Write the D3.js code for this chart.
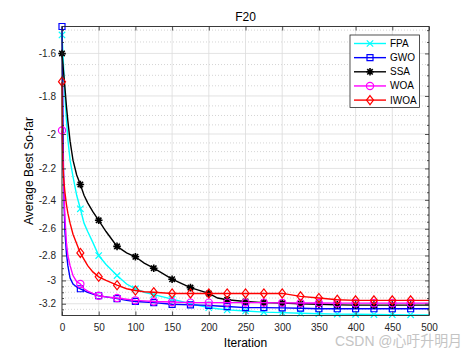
<!DOCTYPE html>
<html><head><meta charset="utf-8">
<script src="https://cdn.jsdelivr.net/npm/d3@7"></script>
<style>body{margin:0;background:#fff;} svg{display:block;font-family:"Liberation Sans",Arial,sans-serif;}</style>
</head><body><svg id="c" width="474" height="355"></svg>
<script>
const iterations = [0,1,2,3,4,6,8,11,15,20,25,30,35,42,50,60,75,88,100,112,125,150,175,200,212,225,250,275,300,325,350,375,400,425,450,475,500];
const fpa  = [-1.52,-1.58,-1.65,-1.72,-1.80,-1.92,-2.03,-2.15,-2.25,-2.37,-2.46,-2.56,-2.62,-2.70,-2.80,-2.87,-2.96,-3.03,-3.07,-3.10,-3.12,-3.16,-3.20,-3.235,-3.245,-3.255,-3.265,-3.275,-3.28,-3.285,-3.29,-3.293,-3.295,-3.297,-3.298,-3.30,-3.30];
const gwo  = [-1.485,-1.80,-2.20,-2.45,-2.62,-2.78,-2.88,-2.98,-3.03,-3.055,-3.07,-3.085,-3.10,-3.115,-3.13,-3.14,-3.155,-3.17,-3.18,-3.185,-3.19,-3.205,-3.21,-3.215,-3.22,-3.225,-3.235,-3.235,-3.237,-3.24,-3.245,-3.245,-3.245,-3.245,-3.245,-3.245,-3.245];
const ssa  = [-1.60,-1.64,-1.68,-1.72,-1.76,-1.85,-1.93,-2.04,-2.15,-2.24,-2.30,-2.37,-2.42,-2.48,-2.54,-2.62,-2.73,-2.78,-2.81,-2.86,-2.90,-2.99,-3.06,-3.11,-3.15,-3.165,-3.18,-3.19,-3.195,-3.20,-3.205,-3.21,-3.212,-3.212,-3.212,-3.212,-3.212];
const woa  = [-1.98,-2.10,-2.22,-2.40,-2.52,-2.70,-2.80,-2.88,-2.96,-3.01,-3.03,-3.07,-3.09,-3.11,-3.13,-3.14,-3.15,-3.16,-3.17,-3.175,-3.18,-3.185,-3.19,-3.19,-3.19,-3.19,-3.19,-3.19,-3.192,-3.193,-3.194,-3.195,-3.195,-3.195,-3.195,-3.195,-3.195];
const iwoa = [-1.73,-2.15,-2.25,-2.30,-2.35,-2.43,-2.49,-2.56,-2.64,-2.71,-2.78,-2.83,-2.88,-2.93,-2.97,-3.00,-3.04,-3.07,-3.085,-3.095,-3.10,-3.11,-3.11,-3.11,-3.11,-3.11,-3.11,-3.11,-3.11,-3.135,-3.15,-3.165,-3.17,-3.17,-3.17,-3.17,-3.17];
const seriesNames = ["FPA","GWO","SSA","WOA","IWOA"];
const seriesColors = ["#00ffff","#0000ff","#000000","#ff00ff","#ff0000"];
const seriesMarkers = ["x","square","star","circle","diamond"];
const seriesValues = [fpa, gwo, ssa, woa, iwoa];
const xTicks = [0,50,100,150,200,250,300,350,400,450,500];
const yTicks = [-1.6,-1.8,-2,-2.2,-2.4,-2.6,-2.8,-3,-3.2];
const yTickLabels = ["-1.6","-1.8","-2","-2.2","-2.4","-2.6","-2.8","-3","-3.2"];
const yMinor = [-1.5,-1.55,-1.65,-1.7,-1.75,-1.85,-1.9,-1.95,-2.05,-2.1,-2.15,-2.25,-2.3,-2.35,-2.45,-2.5,-2.55,-2.65,-2.7,-2.75,-2.85,-2.9,-2.95,-3.05,-3.1,-3.15,-3.25];
const markerEvery = 25;

const L=62, R=429, T=26.5, B=315.5;
const svg = d3.select("#c");
const x = d3.scaleLinear().domain([0,500]).range([L,R]);
const y = d3.scaleLog().domain([-1.485,-3.306]).range([T,B]);

// grid
const g = svg.append("g");
g.selectAll(".mg").data(yMinor).join("line")
  .attr("x1",L).attr("x2",R).attr("y1",d=>y(d)).attr("y2",d=>y(d))
  .attr("stroke","#b8b8b8").attr("stroke-width",0.6).attr("stroke-dasharray","1,2");
g.selectAll(".yg").data(yTicks).join("line")
  .attr("x1",L).attr("x2",R).attr("y1",d=>y(d)).attr("y2",d=>y(d))
  .attr("stroke","#dcdcdc").attr("stroke-width",0.8);
g.selectAll(".xg").data(xTicks).join("line")
  .attr("y1",T).attr("y2",B).attr("x1",d=>x(d)).attr("x2",d=>x(d))
  .attr("stroke","#dcdcdc").attr("stroke-width",0.8);

// series
function markerPath(type, s){
  switch(type){
    case "x": return `M${-s},${-s}L${s},${s}M${-s},${s}L${s},${-s}`;
    case "square": return `M${-s},${-s}H${s}V${s}H${-s}Z`;
    case "star": {const d=s*0.72; return `M0,${-s}V${s}M${-s},0H${s}M${-d},${-d}L${d},${d}M${-d},${d}L${d},${-d}`;}
    case "diamond": return `M0,${-s*1.3}L${s},0L0,${s*1.3}L${-s},0Z`;
  }
}
function drawMarker(sel, type, color){
  if(type==="circle"){
    sel.append("circle").attr("r",3.6).attr("fill","none").attr("stroke",color).attr("stroke-width",1.2);
  } else {
    const s = type==="square"?3:(type==="diamond"?3.5:(type==="star"?3.8:3.2));
    sel.append("path").attr("d",markerPath(type,s)).attr("fill","none").attr("stroke",color)
      .attr("stroke-width",type==="star"?1.6:1.2);
  }
}
const line = d3.line().x(d=>x(d[0])).y(d=>y(d[1]));
seriesValues.forEach((vals,i)=>{
  const pts = iterations.map((it,j)=>[it, vals[j]]);
  const sg = svg.append("g");
  sg.append("path").attr("d",line(pts)).attr("fill","none").attr("stroke",seriesColors[i]).attr("stroke-width",1.4);
  pts.filter(p=>p[0]%markerEvery===0 && p[0]<500).forEach(p=>{
    const m = sg.append("g").attr("transform",`translate(${x(p[0])},${y(p[1])})`);
    drawMarker(m, seriesMarkers[i], seriesColors[i]);
  });
});

// axes
const axCol="#262626";
const bx = svg.append("g").attr("transform",`translate(0,${B})`)
  .call(d3.axisBottom(x).tickValues(xTicks).tickSizeInner(-4).tickSizeOuter(0).tickPadding(8).tickFormat(d3.format("d")));
const lx = svg.append("g").attr("transform",`translate(${L},0)`)
  .call(d3.axisLeft(y).tickValues(yTicks).tickSizeInner(-4).tickSizeOuter(0).tickPadding(6).tickFormat((d,i)=>yTickLabels[i]));
const tx = svg.append("g").attr("transform",`translate(0,${T})`)
  .call(d3.axisTop(x).tickValues(xTicks).tickSizeInner(-4).tickSizeOuter(0).tickFormat(""));
const rx = svg.append("g").attr("transform",`translate(${R},0)`)
  .call(d3.axisRight(y).tickValues(yTicks).tickSizeInner(-4).tickSizeOuter(0).tickFormat(""));
const lm = svg.append("g").attr("transform",`translate(${L},0)`)
  .call(d3.axisLeft(y).tickValues(yMinor).tickSizeInner(-2).tickSizeOuter(0).tickFormat(""));
const rm = svg.append("g").attr("transform",`translate(${R},0)`)
  .call(d3.axisRight(y).tickValues(yMinor).tickSizeInner(-2).tickSizeOuter(0).tickFormat(""));
[bx,lx,tx,rx,lm,rm].forEach(a=>{
  a.select(".domain").remove();
  a.selectAll("line").attr("stroke",axCol).attr("stroke-width",0.8);
  a.selectAll("text").attr("fill",axCol).style("font-size","10px").style("font-family",'"Liberation Sans",Arial,sans-serif');
});
svg.append("rect").attr("x",L).attr("y",T).attr("width",R-L).attr("height",B-T)
  .attr("fill","none").attr("stroke",axCol).attr("stroke-width",0.9);

// labels
svg.append("text").attr("x",(L+R)/2).attr("y",20.5).attr("text-anchor","middle")
  .attr("fill","#000").style("font-size","12px").text("F20");
svg.append("text").attr("x",(L+R)/2).attr("y",347).attr("text-anchor","middle")
  .attr("fill","#000").style("font-size","12px").text("Iteration");
svg.append("text").attr("transform",`translate(33,${(T+B)/2}) rotate(-90)`).attr("text-anchor","middle")
  .attr("fill","#000").style("font-size","12px").text("Average Best So-far");

// legend
const lg = svg.append("g");
lg.append("rect").attr("x",350).attr("y",35).attr("width",69.5).attr("height",72.5)
  .attr("fill","#fff").attr("stroke",axCol).attr("stroke-width",0.8);
seriesNames.forEach((n,i)=>{
  const yy = 43.5 + i*14.15;
  lg.append("line").attr("x1",354).attr("x2",386).attr("y1",yy).attr("y2",yy)
    .attr("stroke",seriesColors[i]).attr("stroke-width",1.4);
  const m = lg.append("g").attr("transform",`translate(370,${yy})`);
  drawMarker(m, seriesMarkers[i], seriesColors[i]);
  lg.append("text").attr("x",390).attr("y",yy).attr("dy","0.35em").attr("fill","#000")
    .style("font-size","10px").text(n);
});

// watermark
svg.append("text").attr("x",335).attr("y",346).attr("fill","#c4c4c4")
  .attr("textLength",127).attr("lengthAdjust","spacingAndGlyphs")
  .style("font-size","15px").style("font-family",'"Liberation Sans","Noto Sans CJK SC",sans-serif')
  .text("CSDN @心吁升明月");
</script></body></html>
